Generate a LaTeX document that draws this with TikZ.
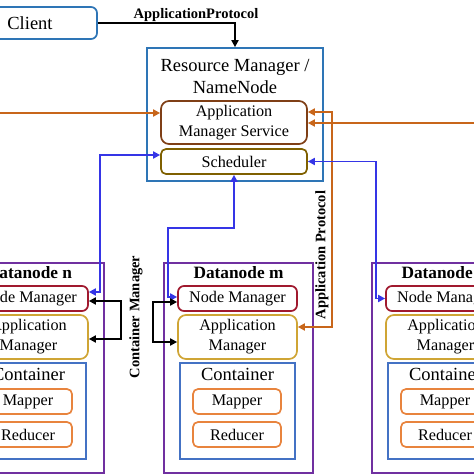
\documentclass[tikz,border=0pt]{standalone}
\usepackage{fontspec}
\setmainfont{Liberation Serif}
\usetikzlibrary{arrows.meta,calc}
\definecolor{rmblue}{HTML}{2E75B6}
\definecolor{amsbrown}{HTML}{7F3F16}
\definecolor{schol}{HTML}{7F6000}
\definecolor{nmred}{HTML}{A0192E}
\definecolor{amgold}{HTML}{CFA535}
\definecolor{contblue}{HTML}{4472C4}
\definecolor{mrorange}{HTML}{E8843E}
\definecolor{dnpurple}{HTML}{7030A0}
\definecolor{conorange}{HTML}{C8661A}
\definecolor{conblue}{HTML}{3535E6}
\begin{document}
\begin{tikzpicture}[x=1pt,y=-1pt,
  box/.style={draw, line width=1.7pt, inner sep=0pt, align=center},
  bigtxt/.style={font=\fontsize{18.5}{22}\selectfont, align=center, inner sep=0pt},
  midtxt/.style={font=\fontsize{16.2}{20}\selectfont, align=center},
  lbl/.style={font=\bfseries\fontsize{14.5}{17}\selectfont, inner sep=0pt},
  tip/.style={-{Triangle[length=7pt,width=7pt]}},
  tips/.style={{Triangle[length=7pt,width=7pt]}-{Triangle[length=7pt,width=7pt]}},
  conn/.style={line width=1.9pt},
  ]
\useasboundingbox (0,0) rectangle (474,474);
\clip (0,0) rectangle (474,474);

% Client
\node[box, draw=rmblue, rounded corners=6pt, minimum width=137pt, minimum height=32pt, bigtxt] (client) at (28.5,23) {};
\node[bigtxt] (clienttxt) at (30,23) {Client};

% Resource manager
\node[box, draw=rmblue, minimum width=176pt, minimum height=133pt] (rm) at (235,114.5) {};
\node[bigtxt] (rmtxt) at (235,76) {Resource Manager /\\NameNode};
\node[box, draw=amsbrown, rounded corners=8pt, minimum width=146pt, minimum height=43pt, midtxt] (ams) at (234,122.5) {Application\\Manager Service};
\node[box, draw=schol, rounded corners=5pt, minimum width=146pt, minimum height=25pt, midtxt] (sch) at (234,161.5) {Scheduler};

% Datanodes
\foreach \id/\cx/\ttl in {n/29.5/{Datanode n}, m/238.5/{Datanode m}, r/446.5/{Datanode\phantom{ m}}}{
  \node[box, draw=dnpurple, minimum width=149pt, minimum height=210pt] (dn\id) at (\cx,368) {};
  \node[font=\bfseries\fontsize{17.3}{20}\selectfont, inner sep=0pt] (dnt\id) at (\cx,273) {\ttl};
  \node[box, draw=nmred, rounded corners=6pt, minimum width=119pt, minimum height=25pt, midtxt] (nm\id) at (\cx-1,298.5) {Node Manager};
  \node[box, draw=amgold, rounded corners=8pt, minimum width=119pt, minimum height=44pt, midtxt] (am\id) at (\cx-1,337) {Application\\Manager};
  \node[box, draw=contblue, minimum width=115pt, minimum height=96pt] (ct\id) at (\cx-1,411) {};
  \node[bigtxt] (ctt\id) at (\cx-1,374) {Container};
  \node[box, draw=mrorange, rounded corners=5pt, minimum width=88pt, minimum height=25pt, midtxt] (mp\id) at (\cx-1.5,401.5) {Mapper};
  \node[box, draw=mrorange, rounded corners=5pt, minimum width=88pt, minimum height=25pt, midtxt] (rd\id) at (\cx-1.5,434.5) {Reducer};
}

% Client -> RM
\draw[conn, tip, black] (client.east) -| (rm.north);
\node[lbl] (aplbl) at (196,15) {ApplicationProtocol};

% Orange connectors
\coordinate (oL) at (0,113);
\coordinate (oR) at (474,123);
\draw[conn, tip, conorange] (oL) -- ([yshift=9.5pt]ams.west);
\draw[conn, tip, conorange] (oR) -- ([yshift=-0.5pt]ams.east);
\draw[conn, tips, conorange] ([yshift=10.5pt]ams.east) -- (332,112) -- (332,327) -- ([yshift=10pt]amm.east);
\node[lbl, rotate=90] (aplbl2) at (322,255) {Application Protocol};

% Blue connectors
\draw[conn, tips, conblue] ([yshift=6.5pt]sch.west) -- (100,155) -- (100,292) -- ([yshift=6.5pt]nmn.east);
\draw[conn, tips, conblue] (sch.south) -- (234,228) -- (168,228) -- (168,297) -- ([yshift=1.5pt]nmm.west);
\draw[conn, tips, conblue] (sch.east) -- (376,161.5) -- (376,298.5) -- (nmr.west);

% Black container manager connectors
\draw[conn, tips, black] ([yshift=-2.5pt]nmn.east) -- (121,301) -- (121,339) -- ([yshift=-2pt]amn.east);
\draw[conn, tips, black] ([yshift=-3.5pt]nmm.west) -- (153,302) -- (153,342) -- ([yshift=-5pt]amm.west);
\node[lbl, rotate=90] (cmlbl) at (136,317) {Container Manager};
\end{tikzpicture}
\end{document}
